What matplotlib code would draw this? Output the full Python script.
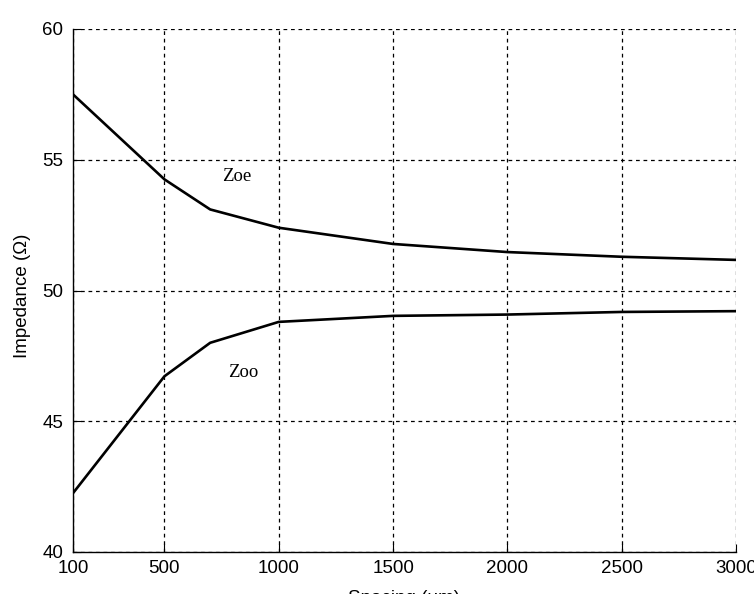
import matplotlib
matplotlib.use("Agg")
import matplotlib.pyplot as plt

spacing = [100, 500, 700, 1000, 1500, 2000, 2500, 3000]
zoe = [57.5, 54.25, 53.1, 52.4, 51.78, 51.47, 51.29, 51.17]
zoo = [42.25, 46.72, 48.0, 48.8, 49.03, 49.08, 49.18, 49.21]
xticks = [100, 500, 1000, 1500, 2000, 2500, 3000]
yticks = [40, 45, 50, 55, 60]

fig = plt.figure(figsize=(7.54, 5.94), dpi=100)
ax = fig.add_axes([73/754, 1-552/594, (736-73)/754, (552-29)/594])

ax.plot(spacing, zoe, color="black", lw=1.9)
ax.plot(spacing, zoo, color="black", lw=1.9)

ax.set_xlim(100, 3000)
ax.set_ylim(40, 60)
ax.set_xticks(xticks)
ax.set_yticks(yticks)
ax.grid(True, color="black", linestyle=(0, (3, 3)), linewidth=0.9)
for s in ["top", "right"]:
    ax.spines[s].set_visible(False)
for s in ["left", "bottom"]:
    ax.spines[s].set_linewidth(1.0)
ax.tick_params(direction="in", length=6, labelsize=13.5, colors="black")
ax.tick_params(axis="x", pad=6)
ax.tick_params(axis="y", pad=7)
for lab in ax.get_xticklabels() + ax.get_yticklabels():
    lab.set_fontfamily("Liberation Sans")

ax.set_xlabel("Spacing (\u03bcm)", fontsize=13.5, family="Liberation Sans")
ax.xaxis.set_label_coords(0.5, -0.0725)
ax.set_ylabel("Impedance (\u03a9)", fontsize=13.5, family="Liberation Sans")
ax.yaxis.set_label_coords(-0.064, 0.49)

ax.text(816, 54.35, "Zoe", family="Liberation Serif", fontsize=13.5, ha="center", va="center")
ax.text(845, 46.87, "Zoo", family="Liberation Serif", fontsize=13.5, ha="center", va="center")

fig.savefig("out.png", dpi=100)
